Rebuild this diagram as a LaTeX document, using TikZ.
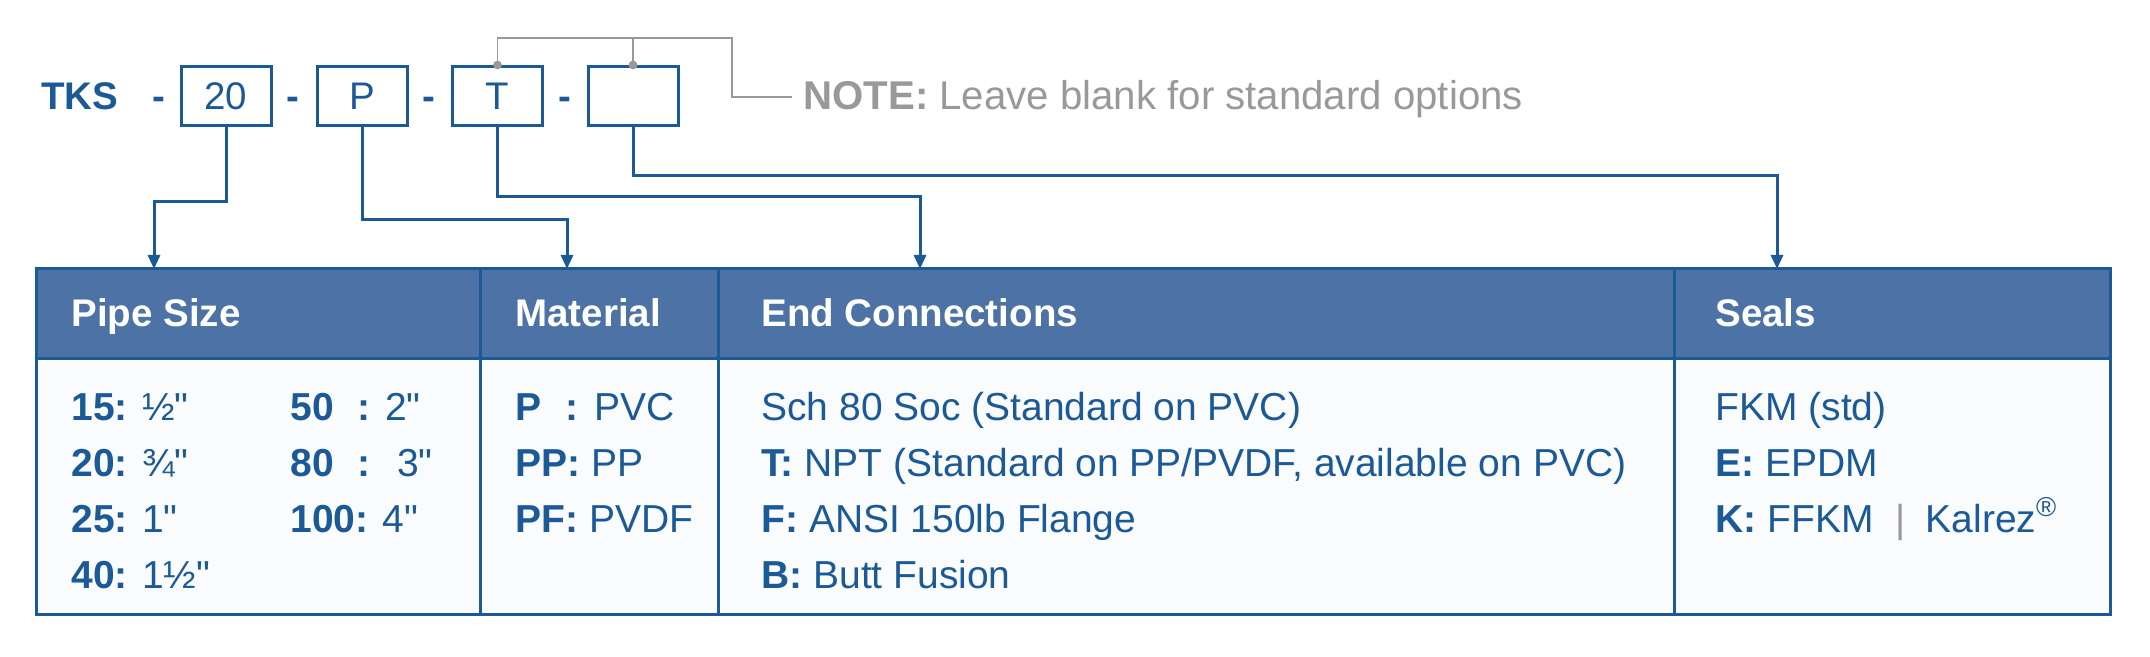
\documentclass[tikz,border=0pt]{standalone}
\usepackage{fontspec}
\newfontfamily\arial{Liberation Sans}
\usetikzlibrary{arrows.meta}
\definecolor{dblue}{HTML}{1B5A96}
\definecolor{hblue}{HTML}{4D72A5}
\definecolor{lgray}{HTML}{999999}
\definecolor{bodyfill}{HTML}{F9FBFD}
\begin{document}
\begin{tikzpicture}[x=0.5pt,y=-0.5pt,
  txt/.style={font=\arial\fontsize{19.5}{23}\selectfont, text=dblue, inner sep=0pt, anchor=base west},
  hdr/.style={txt, font=\arial\fontsize{19.25}{23}\selectfont\bfseries, text=white},
  codebox/.style={draw=dblue, line width=1.5pt, minimum width=45pt, minimum height=29.5pt, inner sep=0pt, font=\arial\fontsize{19.25}{23}\selectfont, text=dblue},
  dashtxt/.style={font=\arial\fontsize{19.25}{23}\selectfont\bfseries, text=dblue, inner sep=0pt, anchor=base},
  conn/.style={draw=dblue, line width=1.5pt, -{Triangle[length=7pt,width=6pt]}},
  noteline/.style={draw=lgray, line width=0.8pt},
  tline/.style={draw=dblue, line width=1.5pt}
]
\useasboundingbox (0,0) rectangle (2150,657);

% code line
\node[txt, font=\arial\fontsize{19.25}{23}\selectfont\bfseries] (tks) at (41,110) {TKS};
\node[dashtxt] (d1) at (159,110) {-};
\node[codebox] (b1) at (226,96) {20};
\node[dashtxt] (d2) at (293,110) {-};
\node[codebox] (b2) at (362,96) {P};
\node[dashtxt] (d3) at (429,110) {-};
\node[codebox] (b3) at (497.5,96) {T};
\node[dashtxt] (d4) at (565,110) {-};
\node[codebox] (b4) at (633,96) {};

% note
\node[txt, font=\arial\fontsize{20.1}{24}\selectfont, text=lgray] (note) at (803,110) {\textbf{NOTE:} Leave blank for standard options};
\coordinate (g1) at (732,38);
\coordinate (g2) at (792,97);
\draw[noteline] (b3.north) -- (b3.north |- g1) -- (g1) |- (g2);
\draw[noteline] (b4.north) -- (b4.north |- g1);
\fill[lgray] (b3.north) circle (2.2pt);
\fill[lgray] (b4.north) circle (2.2pt);

% table
\fill[bodyfill] (36,359) rectangle (2110,614);
\fill[hblue] (36,269) rectangle (2110,359);
\draw[tline] (36,269) rectangle (2110,614);
\draw[tline] (36,359) -- (2110,359);
\draw[tline] (480,269) -- (480,614);
\draw[tline] (718,269) -- (718,614);
\draw[tline] (1674,269) -- (1674,614);

% connectors
\coordinate (a1) at (154,269); \coordinate (k1) at (154,202);
\coordinate (a2) at (567,269); \coordinate (k2) at (567,220);
\coordinate (a3) at (920,269); \coordinate (k3) at (920,197);
\coordinate (a4) at (1777,269); \coordinate (k4) at (1777,176);
\draw[conn] (b1.south) |- (k1) -- (a1);
\draw[conn] (b2.south) |- (k2) -- (a2);
\draw[conn] (b3.south) |- (k3) -- (a3);
\draw[conn] (b4.south) |- (k4) -- (a4);

% headers
\node[hdr] (h1) at (71,327) {Pipe Size};
\node[hdr] (h2) at (515,327) {Material};
\node[hdr] (h3) at (761,327) {End Connections};
\node[hdr] (h4) at (1715,327) {Seals};

% pipe size
\node[txt] (p15) at (71,420) {\textbf{15:} ½"};
\node[txt] (p20) at (71,476) {\textbf{20:} ¾"};
\node[txt] (p25) at (71,532) {\textbf{25:} 1"};
\node[txt] (p40) at (71,588) {\textbf{40:} 1½"};
\node[txt] (p50) at (290,420) {\textbf{50\hspace{12pt}:} 2"};
\node[txt] (p80) at (290,476) {\textbf{80\hspace{12pt}:}\hspace{6pt} 3"};
\node[txt] (p100) at (290,532) {\textbf{100:} 4"};

% material
\node[txt] (mp) at (515,420) {\textbf{P\hspace{12pt}:}\hspace{2.5pt} PVC};
\node[txt] (mpp) at (515,476) {\textbf{PP:} PP};
\node[txt] (mpf) at (515,532) {\textbf{PF:} PVDF};

% end connections
\node[txt] (e1) at (761,420) {Sch 80 Soc (Standard on PVC)};
\node[txt] (e2) at (761,476) {\textbf{T:} NPT (Standard on PP/PVDF, available on PVC)};
\node[txt] (e3) at (761,532) {\textbf{F:} ANSI 150lb Flange};
\node[txt] (e4) at (761,588) {\textbf{B:} Butt Fusion};

% seals
\node[txt] (s1) at (1715,420) {FKM (std)};
\node[txt] (s2) at (1715,476) {\textbf{E:} EPDM};
\node[txt] (s3) at (1715,532) {\textbf{K:} FFKM\hspace{11pt}{\color{lgray}|}\hspace{10pt}Kalrez\textsuperscript{®}};
\end{tikzpicture}
\end{document}
